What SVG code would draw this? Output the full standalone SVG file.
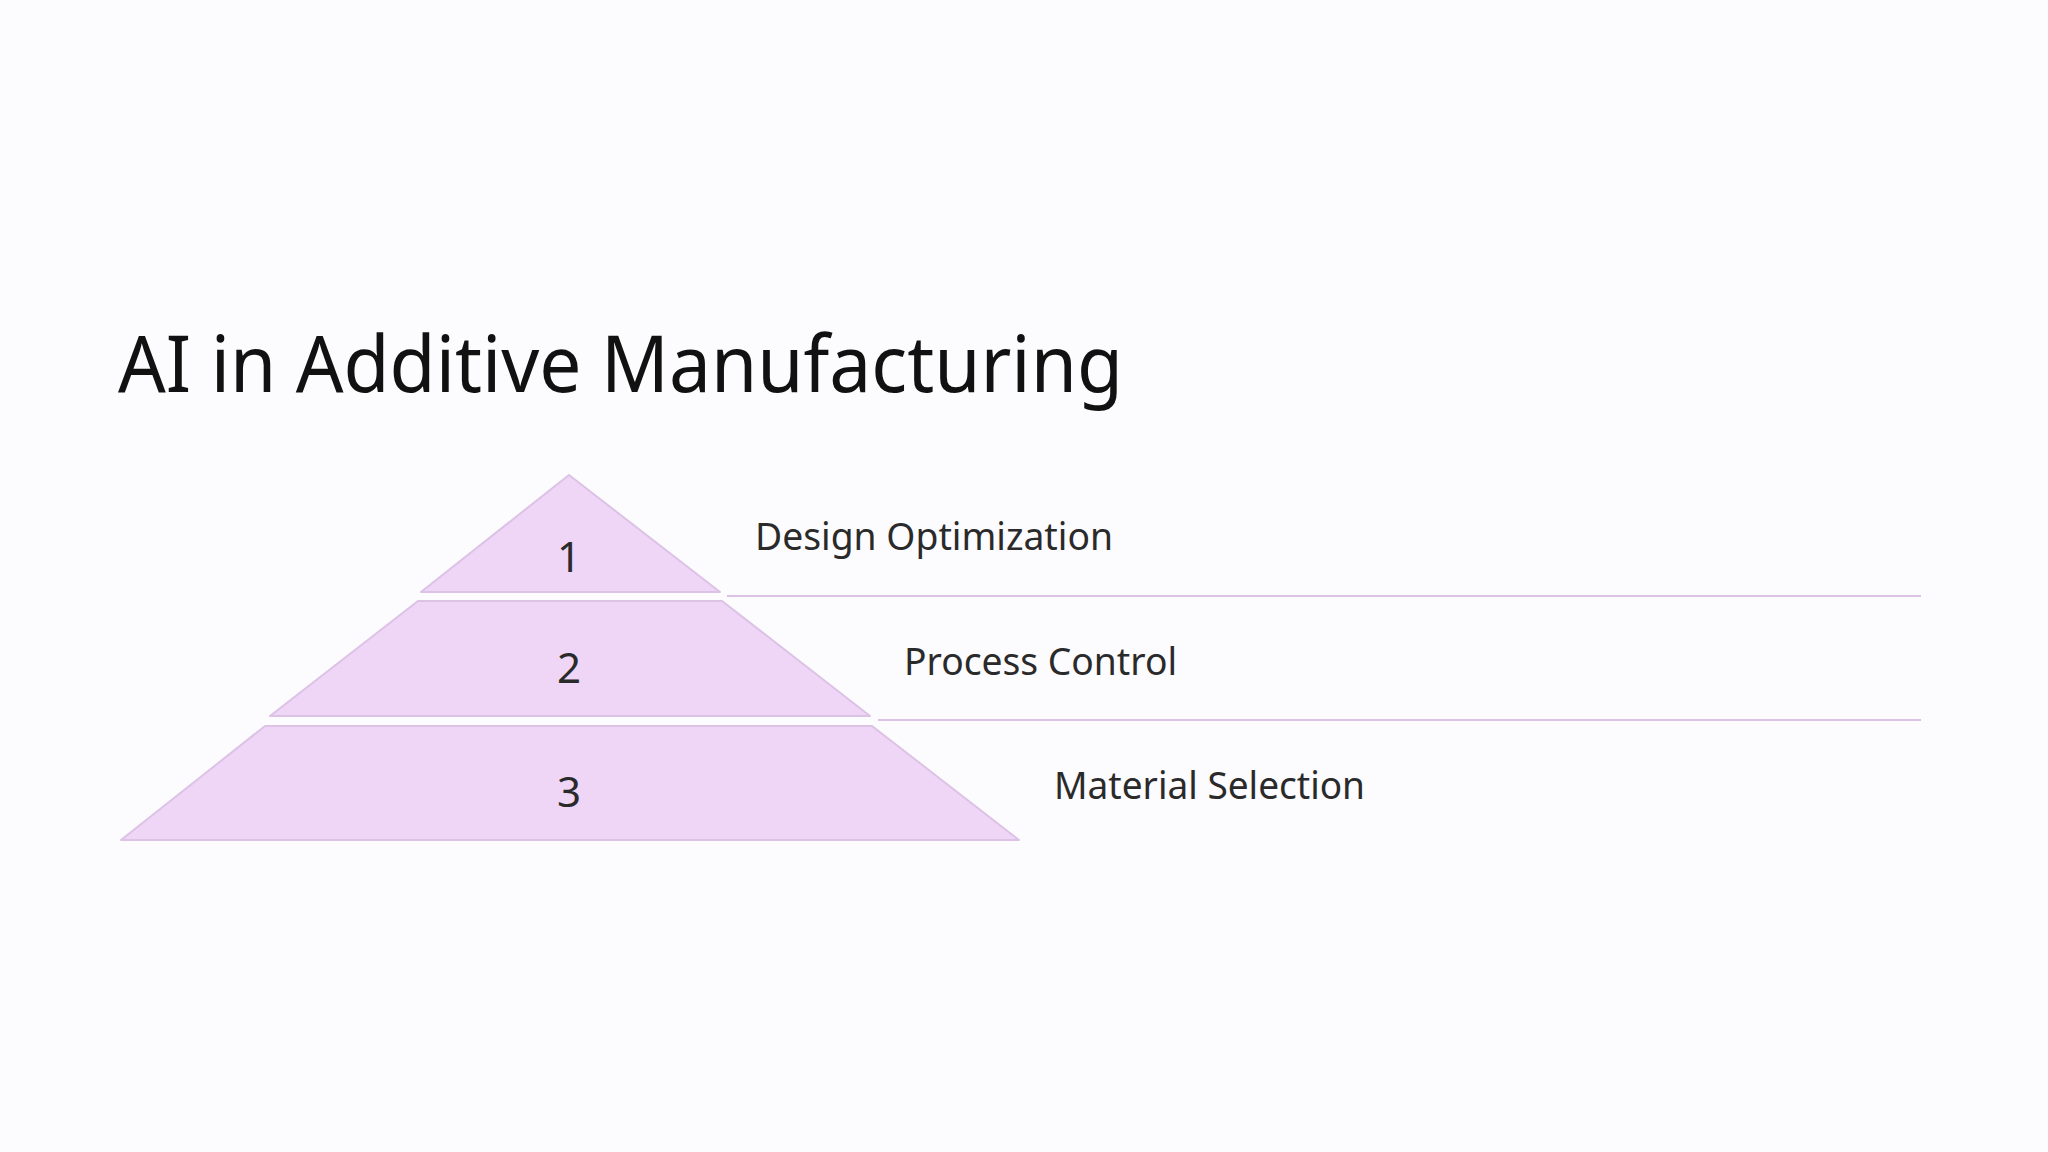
<svg xmlns="http://www.w3.org/2000/svg" width="2048" height="1152" viewBox="0 0 2048 1152">
<style>
.tier{fill:#efd5f6;stroke:#dcc3e6;stroke-width:2;stroke-linejoin:round}
.num{font-family:"Noto Sans","Open Sans",sans-serif;font-size:42px;fill:#2a2a2a;text-anchor:middle}
.lbl{font-family:"Noto Sans","Open Sans",sans-serif;font-size:38px;fill:#2a2a2a}
.ln{stroke:#dcc3e6;stroke-width:2}
</style>
<rect width="2048" height="1152" fill="#fcfbfd"/>
<text x="118" y="392" font-family="'Noto Sans','Open Sans',sans-serif" font-size="78" fill="#111" textLength="1005" lengthAdjust="spacingAndGlyphs">AI in Additive Manufacturing</text>
<g id="tier1"><polygon class="tier" points="569,475 720,592 421,592"/><text class="num" x="569" y="572">1</text></g>
<g id="tier2"><polygon class="tier" points="418,601 722,601 870,716 270,716"/><text class="num" x="569" y="683">2</text></g>
<g id="tier3"><polygon class="tier" points="265,726 872,726 1019,840 121,840"/><text class="num" x="569" y="807">3</text></g>
<g id="labels">
<text class="lbl" x="755" y="550" textLength="358" lengthAdjust="spacingAndGlyphs">Design Optimization</text>
<text class="lbl" x="904" y="675" textLength="273" lengthAdjust="spacingAndGlyphs">Process Control</text>
<text class="lbl" x="1054" y="799" textLength="311" lengthAdjust="spacingAndGlyphs">Material Selection</text>
</g>
<g id="connectors">
<line class="ln" x1="727" y1="596" x2="1921" y2="596"/>
<line class="ln" x1="878" y1="720" x2="1921" y2="720"/>
</g>
</svg>
